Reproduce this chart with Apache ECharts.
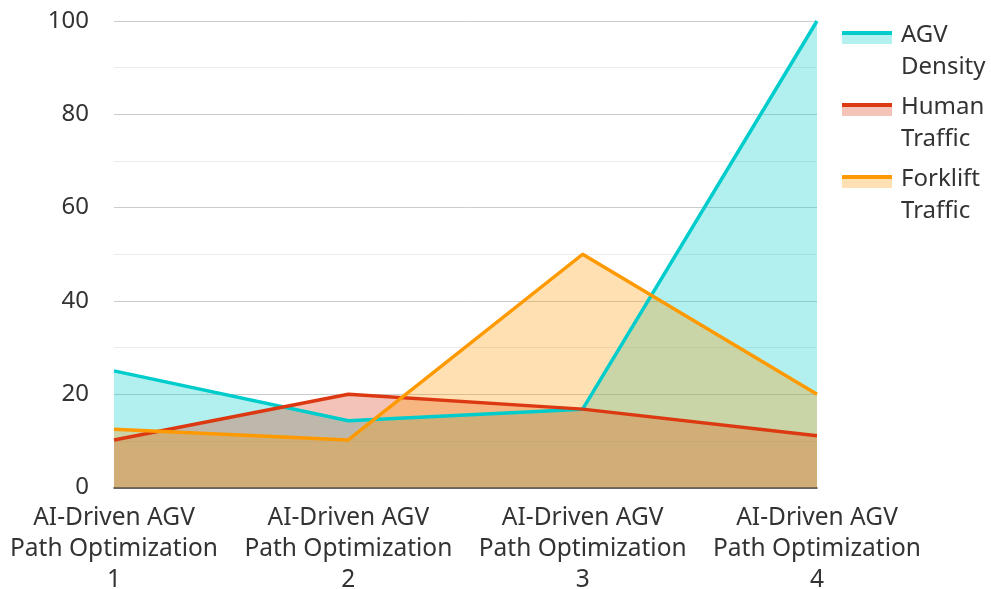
<!DOCTYPE html>
<html>
<head>
<meta charset="utf-8">
<script src="https://cdn.jsdelivr.net/npm/echarts@6/dist/echarts.min.js"></script>
<style>
html,body{margin:0;padding:0;background:#fff;}
#main{width:991px;height:589px;}
</style>
</head>
<body>
<div id="main"></div>
<script>
const categories = [
  'AI-Driven AGV Path Optimization 1',
  'AI-Driven AGV Path Optimization 2',
  'AI-Driven AGV Path Optimization 3',
  'AI-Driven AGV Path Optimization 4'
];
const seriesNames = ['AGV Density', 'Human Traffic', 'Forklift Traffic'];
const agvDensity = [25, 14.3, 16.8, 100];
const humanTraffic = [10.2, 20, 16.8, 11.1];
const forkliftTraffic = [12.5, 10.2, 50, 20];
const yTicks = [0, 20, 40, 60, 80, 100];

const lineColors = ['#00cccc', '#dc3912', '#ff9900'];
const fillOpaque = ['#b3f0f0', '#f5c4b8', '#ffe0b3'];

const FONT = "'Noto Sans', 'Open Sans', sans-serif";

function legendGradient(i) {
  const a = 12 / 64, b = 16 / 64, c = 25 / 64;
  return {
    type: 'linear', x: 0, y: 0, x2: 0, y2: 1,
    colorStops: [
      { offset: 0, color: 'rgba(255,255,255,0)' },
      { offset: a, color: 'rgba(255,255,255,0)' },
      { offset: a, color: lineColors[i] },
      { offset: b, color: lineColors[i] },
      { offset: b, color: fillOpaque[i] },
      { offset: c, color: fillOpaque[i] },
      { offset: c, color: 'rgba(255,255,255,0)' },
      { offset: 1, color: 'rgba(255,255,255,0)' }
    ]
  };
}

const dataSets = [agvDensity, humanTraffic, forkliftTraffic];

const chart = echarts.init(document.getElementById('main'), null, { renderer: 'canvas' });
chart.setOption({
  animation: false,
  backgroundColor: '#ffffff',
  textStyle: { fontFamily: FONT },
  grid: { left: 114, right: 174, top: 21, bottom: 101.5, containLabel: false, outerBoundsMode: 'none' },
  legend: {
    orient: 'vertical',
    left: 842,
    top: 19,
    padding: 0,
    itemWidth: 50,
    itemHeight: 64,
    itemGap: 8,
    icon: 'rect',
    textStyle: { fontFamily: FONT, fontSize: 24, color: '#333', lineHeight: 32, padding: [0, 0, 0, 4] },
    formatter: function (name) { return name.replace(' ', '\n'); },
    data: seriesNames.map(function (n, i) {
      return { name: n, icon: 'rect', itemStyle: { color: legendGradient(i), borderWidth: 0 } };
    })
  },
  xAxis: {
    type: 'category',
    data: categories,
    boundaryGap: false,
    axisLine: { show: true, lineStyle: { color: '#333', width: 1.5 } },
    axisTick: { show: false },
    axisLabel: {
      fontFamily: FONT, fontSize: 24.5, color: '#333', lineHeight: 31, margin: 15,
      interval: 0,
      formatter: function (v) { return v.replace(' Path', '\nPath').replace(/ (\d+)$/, '\n$1'); }
    },
    splitLine: { show: false }
  },
  yAxis: {
    type: 'value',
    min: 0, max: 100, interval: 20,
    axisLine: { show: false },
    axisTick: { show: false },
    axisLabel: {
      fontFamily: FONT, fontSize: 24, color: '#333', margin: 25,
      formatter: function (v) { return yTicks.indexOf(v) >= 0 ? String(v) : ''; }
    },
    splitLine: { show: true, lineStyle: { color: '#cccccc', width: 1 } },
    minorTick: { show: false, splitNumber: 2 },
    minorSplitLine: { show: true, lineStyle: { color: '#ebebeb', width: 1 } }
  },
  series: seriesNames.map(function (n, i) {
    return {
      name: n,
      type: 'line',
      data: dataSets[i],
      showSymbol: false,
      symbol: 'none',
      lineStyle: { color: lineColors[i], width: 3.5 },
      itemStyle: { color: lineColors[i] },
      areaStyle: { color: lineColors[i], opacity: 0.3, origin: 'start' }
    };
  })
});
</script>
</body>
</html>
